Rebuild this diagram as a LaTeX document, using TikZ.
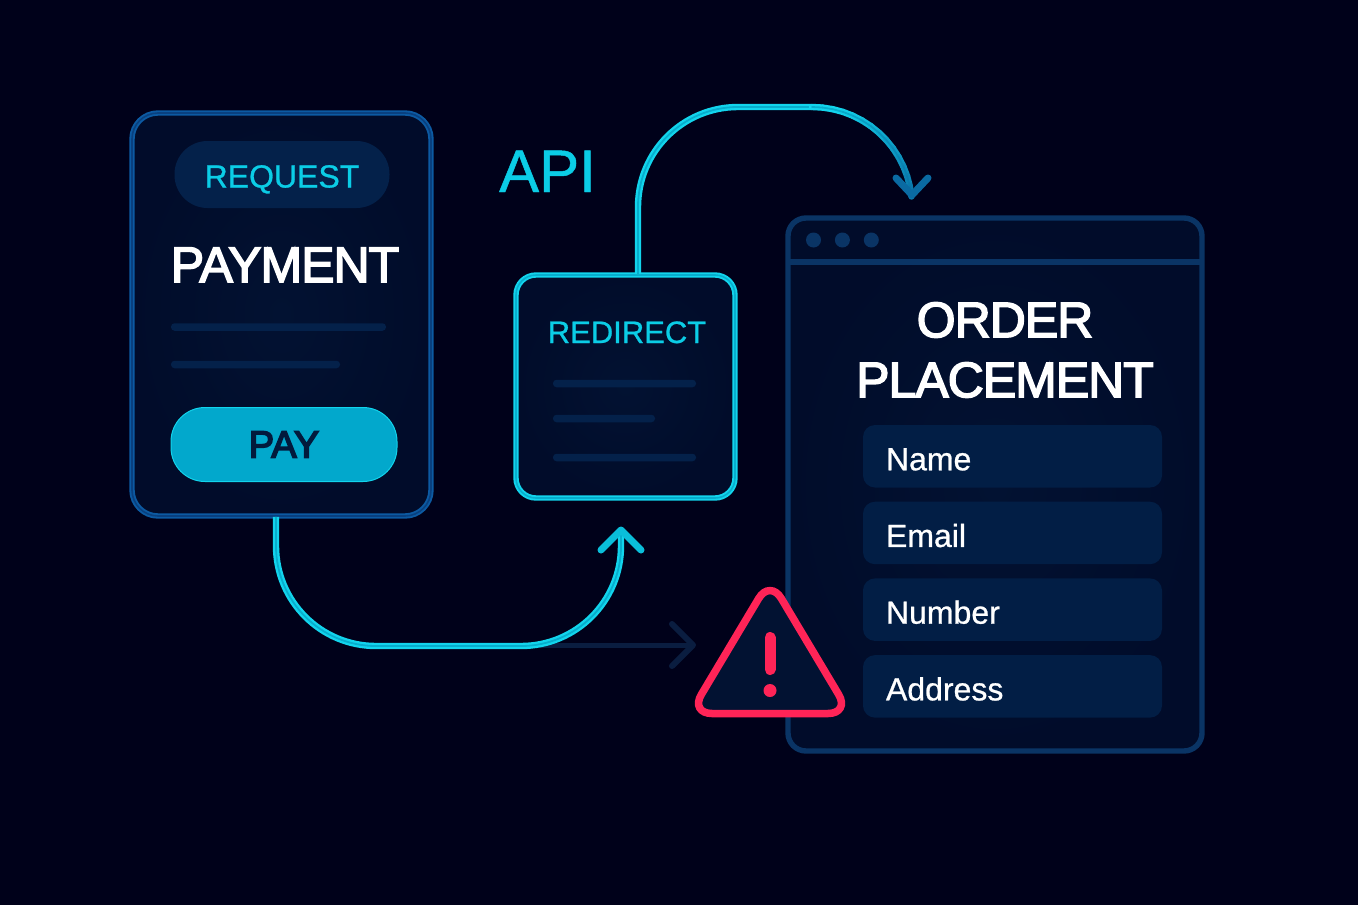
\documentclass[tikz,border=0pt]{standalone}
\usepackage{fontspec}
\setmainfont{Liberation Sans}
\newfontfamily\titlefont[LetterSpace=-2.0,FakeBold=3]{Liberation Sans}
\newfontfamily\labelfont[FakeBold=0.8]{Liberation Sans}
\newfontfamily\payfont[FakeBold=4]{Liberation Sans}
\usetikzlibrary{positioning,shapes.geometric}
\definecolor{bgcol}{HTML}{00011A}
\definecolor{cardcol}{HTML}{021232}
\definecolor{cardrim}{HTML}{010C2A}
\definecolor{barcol}{HTML}{04214A}
\definecolor{fieldcol}{HTML}{021E45}
\definecolor{cardedge}{HTML}{0C5AA2}
\definecolor{cardcore}{HTML}{09407F}
\definecolor{winedge}{HTML}{0A3465}
\definecolor{flowedge}{HTML}{12D4EC}
\definecolor{flowcore}{HTML}{07AECD}
\definecolor{flowblue}{HTML}{0A6AA2}
\definecolor{tipcol}{HTML}{0ABEDA}
\definecolor{labelcol}{HTML}{0BCDE6}
\definecolor{paycol}{HTML}{02A8CC}
\definecolor{inkcol}{HTML}{021A3C}
\definecolor{fadecol}{HTML}{0A1D40}
\definecolor{warncol}{HTML}{FF2457}
\tikzstyle{card}=[
draw=cardedge,
double=cardcore,
double distance=1.6pt,
line width=1.9pt,
inner color=cardcol,
outer color=cardrim,
shape=rectangle,
inner sep=0pt
]
\tikzstyle{pillbox}=[
shape=rectangle,
inner sep=0pt,
text height=26pt,
text depth=0pt
]
\tikzstyle{barline}=[
fill=barcol,
shape=rectangle,
rounded corners=3.5pt,
minimum height=7.5pt,
inner sep=0pt
]
\tikzstyle{field}=[
fill=fieldcol,
shape=rectangle,
rounded corners=12pt,
minimum width=299pt,
minimum height=62.5pt,
text width=253pt,
inner xsep=23pt,
inner ysep=0pt,
text height=28pt,
text depth=0pt,
align=left,
text=white,
font=\labelfont\fontsize{32}{36}\selectfont
]
\tikzstyle{windot}=[
fill=winedge,
shape=circle,
minimum size=15pt,
inner sep=0pt
]
\tikzstyle{flow} = [draw=flowedge,double=flowcore,double distance=1.8pt,line width=2.3pt,rounded corners=100pt]
\tikzstyle{chevron} = [line width=7pt,line cap=round,line join=round]

\begin{document}
\begin{tikzpicture}[x=1pt,y=-1pt]

	\fill[bgcol,use as bounding box] (0,0) rectangle (1358,905);

	% payment card
	\node[card,rounded corners=26pt,minimum width=299pt,minimum height=403pt] (payment) at (281.5,314.5) {};
	\node[pillbox,fill=barcol,rounded corners=33pt,minimum width=215pt,minimum height=67pt,text=labelcol,font=\labelfont\fontsize{32}{36}\selectfont] (request) at (282,174.5) {REQUEST};
	\node[anchor=base,inner sep=0pt,text=white,font=\titlefont\fontsize{50}{56}\selectfont] (paytitle) at (285,282) {PAYMENT};
	\node[barline,minimum width=215pt] (payA) at (278.5,327) {};
	\node[barline,minimum width=169pt] (payB) at (255.5,364.5) {};
	\node[pillbox,fill=paycol,draw=flowedge,line width=1pt,rounded corners=34pt,minimum width=226pt,minimum height=74pt,text=inkcol,font=\payfont\fontsize{38}{42}\selectfont] (pay) at (284,444.5) {PAY};

	\node[anchor=base,inner sep=0pt,text=labelcol,font=\labelfont\fontsize{60}{66}\selectfont] (api) at (547.5,192) {API};

	% redirect card
	\node[card,draw=flowedge,double=flowcore,rounded corners=20pt,minimum width=219pt,minimum height=223pt] (redirect) at (625.5,386.5) {};
	\node[anchor=base,inner sep=0pt,text=labelcol,font=\labelfont\fontsize{31}{36}\selectfont] (redtitle) at (627,343) {REDIRECT};
	\node[barline,minimum width=143pt] (redA) at (624.5,383.5) {};
	\node[barline,minimum width=102pt] (redB) at (604,418.5) {};
	\node[barline,minimum width=143pt] (redC) at (624.5,457.5) {};

	% order window
	\node[card,draw=winedge,double=winedge,rounded corners=18pt,minimum width=414pt,minimum height=533pt] (window) at (995,484.5) {};
	\draw[winedge,line width=6pt] (788,261.5) -- (1202,261.5);
	\node[windot] (dotA) at (813.5,240) {};
	\node[windot,right=13.5pt of dotA] (dotB) {};
	\node[windot,right=13.5pt of dotB] (dotC) {};
	\node[align=center,inner sep=0pt,text=white,font=\titlefont\fontsize{50}{60}\selectfont] (ordertitle) at (1005,350) {ORDER\\PLACEMENT};
	\node[field,inner xsep=22.5pt] (name) at (1012.5,456.25) {Name};
	\node[field,inner xsep=22.5pt,below=13.8pt of name] (email) {Email};
	\node[field,inner xsep=22.5pt,below=13.8pt of email] (number) {Number};
	\node[field,inner xsep=22.5pt,below=13.8pt of number] (address) {Address};

	% warning sign
	\node[isosceles triangle,shape border rotate=90,isosceles triangle stretches,draw=warncol,fill=cardcol,line width=7.5pt,rounded corners=22pt,minimum width=160pt,minimum height=134pt,inner sep=0pt,outer sep=0pt,anchor=lower side] (warn) at (770,713.5) {};
	\draw[warncol,line width=11pt,line cap=round] (770,637.5) -- (770,669.5);
	\fill[warncol] (770,690.5) circle (6.5pt);

	% connectors
	\coordinate[left=37pt of warn.left side,yshift=1.5pt] (warnIn);
	\coordinate (fadeIn) at (warnIn -| 540,0);
	\draw[fadecol,line width=5pt] (fadeIn) -- (warnIn);
	\draw[chevron,fadecol,line width=6pt] (warnIn) ++(-21,-21) -- (warnIn) -- ++(-21,21);

	\coordinate (redIn) at (621,530);
	\coordinate (lowBend) at (276,646);
	\draw[flow] (payment.south -| lowBend) -- (lowBend) -- (621,646) -- (redIn);
	\draw[chevron,tipcol] (redIn) ++(-20,20) -- (redIn) -- ++(20,20);

	\coordinate (winIn) at (912,195);
	\coordinate (topBend) at (638,107);
	\coordinate (topEnd) at (812,107);
	\draw[flow] (redirect.north -| topBend) -- (topBend) -- (topEnd);
	\foreach \w/\c in {6.4/flowedge,1.8/flowcore}
	\foreach \a in {0,6,...,78}{
		\pgfmathsetmacro{\m}{100-1.3*max(\a-12,0)}
		\draw[\c!\m!flowblue,line width=\w pt,line cap=round]
		({812+100*sin(\a)},{207-100*cos(\a)}) -- ({812+100*sin(\a+6)},{207-100*cos(\a+6)});
	}
	\draw[chevron,flowblue] (winIn) ++(-16,-17) -- (winIn) -- ++(16,-17);

\end{tikzpicture}
\end{document}
